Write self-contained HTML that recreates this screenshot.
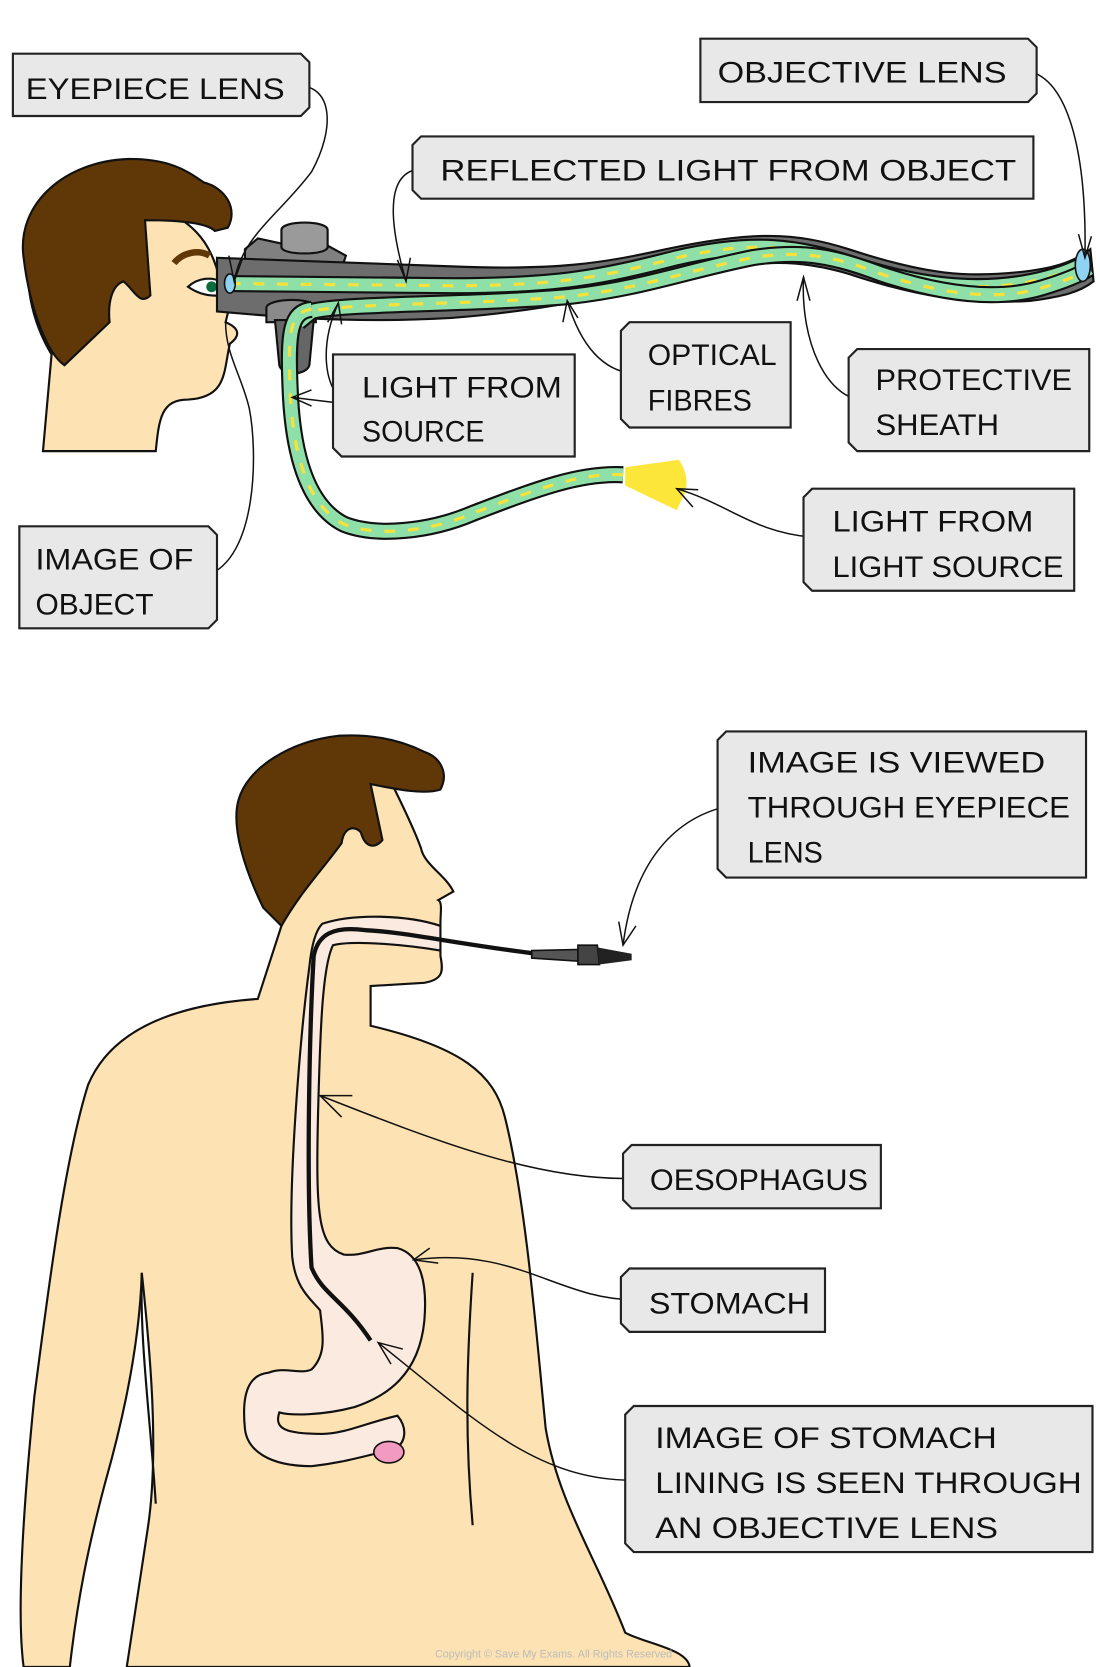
<!DOCTYPE html>
<html><head><meta charset="utf-8"><style>
html,body{margin:0;padding:0;background:#fff;}
svg{display:block;}
text{font-family:"Liberation Sans",sans-serif;font-size:28px;fill:#111;}
.box{fill:#e8e8e8;stroke:#222;stroke-width:2;}
.ln{fill:none;stroke:#111;stroke-width:1.4;}
.ol{stroke:#111;stroke-width:2;}
</style></head><body>
<svg width="1100" height="1667" viewBox="0 0 1024 1552" preserveAspectRatio="none" xmlns="http://www.w3.org/2000/svg">
<rect width="1024" height="1552" fill="#fff"/>

<!-- ===== TOP HEAD ===== -->
<path class="ol" fill="#fde3b3" d="M40,420 L48,330 C30,300 20,260 30,220 L150,195 C190,210 200,240 205,262 L215,280 L210,300 C222,305 225,312 214,320 C208,345 212,370 175,372 C150,372 148,390 145,420 Z"/>
<path class="ol" fill="#603808" d="M22,240 C15,190 60,150 120,148 C160,148 175,160 190,170 C210,175 222,195 212,212 L200,215 C190,205 150,205 135,205 L140,275 C130,285 125,270 115,262 C105,265 100,280 102,300 L60,340 C45,330 28,290 22,240 Z"/>
<path d="M162,245 C170,235 185,232 195,238" stroke="#603808" stroke-width="6" fill="none"/>
<path class="ol" fill="#fff" d="M175,267 C185,258 198,258 205,262 L205,275 C195,276 185,274 175,267 Z"/>
<circle cx="197" cy="267" r="5" fill="#0b6b3a"/>

<!-- endoscope body -->
<path class="ol" fill="#808080" d="M228,232 L240,222 L268,228 L300,226 L322,238 L318,250 L228,248 Z"/>
<path class="ol" fill="#9a9a9a" d="M262,214 C262,205 305,205 305,214 L305,230 C305,238 262,238 262,230 Z"/>
<path class="ol" fill="#6d6d6d" d="M202,240 L420,248 C520,252 560,245 620,232 C700,215 740,216 790,232 C860,255 900,260 960,252 C990,248 1005,240 1015,232 L1018,262 C1005,272 990,276 960,280 C900,284 850,275 790,255 C740,240 700,242 640,258 C580,274 500,290 420,296 C350,300 290,298 202,290 Z"/>
<path class="ol" fill="#8a8a8a" d="M248,286 C250,278 290,276 294,286 L294,300 L248,300 Z"/>
<path class="ol" fill="#666" d="M256,298 L292,298 L288,340 C285,350 262,350 260,340 Z"/>
<path fill="none" stroke="#111" stroke-width="16" d="M214,264 L420,266 C520,266 560,258 630,240 C700,224 740,228 800,248 C870,270 920,270 960,262 C990,256 1005,248 1012,244"/>
<path fill="none" stroke="#8ee0a8" stroke-width="12" d="M214,264 L420,266 C520,266 560,258 630,240 C700,224 740,228 800,248 C870,270 920,270 960,262 C990,256 1005,248 1012,244"/>
<path fill="none" stroke="#f6e23a" stroke-width="3" stroke-dasharray="10 12" d="M214,264 L420,266 C520,266 560,258 630,240 C700,224 740,228 800,248 C870,270 920,270 960,262 C990,256 1005,248 1012,244"/>
<path fill="none" stroke="#111" stroke-width="16" d="M278,300 L290,290 C320,282 440,284 530,276 C600,268 640,252 700,240 C750,232 780,240 820,255 C880,275 930,280 970,268 C990,262 1005,256 1014,250"/>
<path fill="none" stroke="#8ee0a8" stroke-width="12" d="M278,300 L290,290 C320,282 440,284 530,276 C600,268 640,252 700,240 C750,232 780,240 820,255 C880,275 930,280 970,268 C990,262 1005,256 1014,250"/>
<path fill="none" stroke="#f6e23a" stroke-width="3" stroke-dasharray="10 12" d="M278,300 L290,290 C320,282 440,284 530,276 C600,268 640,252 700,240 C750,232 780,240 820,255 C880,275 930,280 970,268 C990,262 1005,256 1014,250"/>
<path fill="none" stroke="#111" stroke-width="16" d="M290,288 C270,290 268,310 270,360 C272,420 285,470 320,488 C350,500 400,495 440,478 C500,455 540,440 580,442"/>
<path fill="none" stroke="#8ee0a8" stroke-width="12" d="M290,288 C270,290 268,310 270,360 C272,420 285,470 320,488 C350,500 400,495 440,478 C500,455 540,440 580,442"/>
<path fill="none" stroke="#f6e23a" stroke-width="3" stroke-dasharray="10 12" d="M290,288 C270,290 268,310 270,360 C272,420 285,470 320,488 C350,500 400,495 440,478 C500,455 540,440 580,442"/>
<path fill="#fde63a" d="M582,435 L632,428 C640,440 640,450 638,458 L630,475 L582,452 Z"/>
<ellipse cx="214" cy="264" rx="5" ry="9" fill="#8fd3f2" stroke="#111" stroke-width="1.5"/>
<ellipse cx="1008" cy="247" rx="7" ry="15" fill="#8fd3f2" stroke="#111" stroke-width="1.5"/>

<g class="ln">
<path d="M278,80 C310,80 312,120 290,160 C260,200 225,220 218,262"/><path d="M213,238 L218,262 L226,240"/>
<path d="M955,66 C990,70 1012,130 1010,240"/><path d="M1004,218 L1010,240 L1016,220"/>
<path d="M395,157 C360,157 360,200 378,262"/><path d="M370,242 L378,262 L382,240"/>
<path d="M322,376 L272,370"/><path d="M290,363 L272,370 L290,378"/><path d="M322,376 C300,360 298,320 315,282"/><path d="M305,300 L315,282 L318,302"/>
<path d="M590,348 C560,345 540,320 528,280"/><path d="M524,300 L528,280 L538,296"/>
<path d="M800,372 C770,368 745,320 748,258"/><path d="M742,280 L748,258 L754,280"/>
<path d="M755,500 C700,495 680,470 630,455"/><path d="M645,472 L630,455 L650,456"/>
<path d="M192,536 C240,520 240,420 232,380 C225,350 210,330 210,300"/>
</g>
<g fill="#fff" stroke="#111" stroke-width="1.4"><circle cx="278" cy="80" r="3"/><circle cx="955" cy="66" r="3"/><circle cx="395" cy="157" r="3"/><circle cx="322" cy="376" r="3"/><circle cx="590" cy="348" r="3"/><circle cx="800" cy="372" r="3"/><circle cx="757" cy="500" r="3"/><circle cx="192" cy="536" r="3"/></g>

<!-- ===== BOTTOM BODY ===== -->
<path class="ol" fill="#fde3b3" d="M262,862 L240,930 C170,935 105,955 82,1010 C60,1080 45,1200 32,1300 C22,1400 15,1500 22,1552 L65,1552 C72,1490 82,1440 98,1380 C115,1320 130,1250 132,1185 C140,1260 148,1350 138,1420 L118,1552 L642,1552 C640,1535 600,1530 582,1520 C555,1450 520,1400 508,1330 C500,1250 490,1120 470,1040 C460,1000 430,975 345,955 L345,918 L395,915 C412,912 413,905 410,890 L410,860 C410,850 412,840 408,838 L422,830 C415,815 395,805 392,790 C385,770 370,740 360,720 L240,760 C235,800 240,840 262,862 Z"/>
<path class="ol" fill="none" d="M132,1185 C130,1250 140,1320 145,1400 M440,1185 C435,1260 432,1330 440,1420"/>
<path class="ol" fill="#603808" d="M245,845 C228,810 215,770 222,745 C230,715 270,690 315,685 C350,683 375,690 395,700 C410,705 418,720 410,735 C395,740 370,735 345,730 L356,782 C350,790 340,790 336,775 C330,768 320,770 318,785 C300,810 280,830 262,862 Z"/>
<path class="ol" fill="#faeadf" stroke-width="1.6" d="M300,860 C330,850 380,852 410,862 L410,885 C380,880 330,875 310,880 C300,900 298,960 296,1040 C294,1130 296,1160 320,1168 C340,1170 350,1160 370,1162 C392,1168 398,1195 395,1230 C390,1280 360,1300 330,1310 C300,1318 270,1318 260,1315 C255,1330 265,1335 300,1335 C320,1335 340,1325 370,1318 C380,1330 378,1345 365,1350 C340,1355 320,1362 290,1365 C250,1365 230,1350 228,1330 C225,1300 230,1280 250,1278 C265,1272 280,1280 290,1275 C305,1260 300,1240 298,1220 C290,1210 275,1200 272,1170 C268,1100 280,960 288,900 C290,880 294,866 300,860 Z"/>
<ellipse cx="362" cy="1352" rx="14" ry="10" fill="#f39ac0" stroke="#111" stroke-width="1.5"/>
<path d="M345,1248 C320,1210 300,1205 290,1180 C285,1100 288,960 292,890 C296,870 310,862 340,866 C380,868 420,878 500,888" fill="none" stroke="#111" stroke-width="4"/>
<path d="M495,885 L540,884 L540,895 L495,892 Z" fill="#555" stroke="#111" stroke-width="1.5"/>
<path d="M538,880 L556,880 L558,898 L538,898 Z" fill="#444" stroke="#111" stroke-width="1.5"/>
<path d="M556,882 L588,888 L588,894 L558,898 Z" fill="#222"/>

<g class="ln">
<path d="M680,750 C630,760 590,800 580,880"/><path d="M576,858 L580,880 L592,862"/>
<path d="M590,1097 C500,1100 400,1060 298,1020"/><path d="M318,1040 L298,1020 L328,1020"/>
<path d="M590,1210 C520,1210 480,1160 385,1173"/><path d="M400,1162 L385,1173 L408,1176"/>
<path d="M592,1378 C500,1380 440,1320 352,1250"/><path d="M364,1270 L352,1250 L375,1256"/>
</g>
<g fill="#fff" stroke="#111" stroke-width="1.4"><circle cx="680" cy="750" r="3"/><circle cx="590" cy="1097" r="3"/><circle cx="590" cy="1210" r="3"/><circle cx="593" cy="1378" r="3"/></g>

<!-- ===== LABEL BOXES ===== -->
<polygon class="box" points="12,50 280,50 288,58 288,100 280,108 12,108"/>
<text x="24" y="92" textLength="241" lengthAdjust="spacingAndGlyphs">EYEPIECE  LENS</text>
<polygon class="box" points="652,36 957,36 965,44 965,87 957,95 652,95"/>
<text x="668" y="77" textLength="269" lengthAdjust="spacingAndGlyphs">OBJECTIVE  LENS</text>
<polygon class="box" points="392,127 962,127 962,185 392,185 384,177 384,135"/>
<text x="410" y="168" textLength="536" lengthAdjust="spacingAndGlyphs">REFLECTED  LIGHT  FROM  OBJECT</text>
<polygon class="box" points="310,330 535,330 535,425 318,425 310,417"/>
<text x="337" y="370" textLength="186" lengthAdjust="spacingAndGlyphs">LIGHT  FROM</text><text x="337" y="411" textLength="114" lengthAdjust="spacingAndGlyphs">SOURCE</text>
<polygon class="box" points="586,300 736,300 736,398 586,398 578,390 578,308"/>
<text x="603" y="340" textLength="120" lengthAdjust="spacingAndGlyphs">OPTICAL</text><text x="603" y="382" textLength="97" lengthAdjust="spacingAndGlyphs">FIBRES</text>
<polygon class="box" points="798,325 1014,325 1014,420 798,420 790,412 790,333"/>
<text x="815" y="363" textLength="183" lengthAdjust="spacingAndGlyphs">PROTECTIVE</text><text x="815" y="405" textLength="115" lengthAdjust="spacingAndGlyphs">SHEATH</text>
<polygon class="box" points="756,455 1000,455 1000,550 756,550 748,542 748,463"/>
<text x="775" y="495" textLength="187" lengthAdjust="spacingAndGlyphs">LIGHT  FROM</text><text x="775" y="537" textLength="215" lengthAdjust="spacingAndGlyphs">LIGHT  SOURCE</text>
<polygon class="box" points="18,490 194,490 202,498 202,577 194,585 18,585"/>
<text x="33" y="530" textLength="147" lengthAdjust="spacingAndGlyphs">IMAGE  OF</text><text x="33" y="572" textLength="110" lengthAdjust="spacingAndGlyphs">OBJECT</text>
<polygon class="box" points="676,681 1011,681 1011,817 676,817 668,809 668,689"/>
<text x="696" y="719" textLength="277" lengthAdjust="spacingAndGlyphs">IMAGE  IS  VIEWED</text><text x="696" y="761" textLength="300" lengthAdjust="spacingAndGlyphs">THROUGH  EYEPIECE</text><text x="696" y="803" textLength="70" lengthAdjust="spacingAndGlyphs">LENS</text>
<polygon class="box" points="588,1066 820,1066 820,1125 588,1125 580,1117 580,1074"/>
<text x="605" y="1108" textLength="203" lengthAdjust="spacingAndGlyphs">OESOPHAGUS</text>
<polygon class="box" points="586,1181 768,1181 768,1240 586,1240 578,1232 578,1189"/>
<text x="604" y="1223" textLength="150" lengthAdjust="spacingAndGlyphs">STOMACH</text>
<polygon class="box" points="590,1309 1017,1309 1017,1445 590,1445 582,1437 582,1317"/>
<text x="610" y="1348" textLength="318" lengthAdjust="spacingAndGlyphs">IMAGE  OF  STOMACH</text><text x="610" y="1390" textLength="397" lengthAdjust="spacingAndGlyphs">LINING  IS  SEEN  THROUGH</text><text x="610" y="1432" textLength="319" lengthAdjust="spacingAndGlyphs">AN  OBJECTIVE  LENS</text>

<text x="405" y="1543" style="font-size:10px;fill:#bbb">Copyright © Save My Exams. All Rights Reserved</text>
</svg>
</body></html>
